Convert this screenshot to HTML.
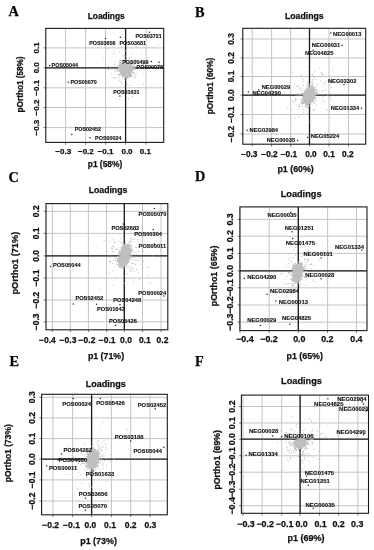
<!DOCTYPE html>
<html><head><meta charset="utf-8"><style>
html,body{margin:0;padding:0;background:#fff;}
svg{display:block;}
text{font-family:"Liberation Sans",Arial,sans-serif;font-weight:bold;fill:#111;stroke:#111;stroke-width:0.25px;}
.k{font-size:8.0px;}
.a{font-size:8.0px;}
.h{font-size:8.3px;}
.p{stroke-width:0.12px;}
.L{font-family:"Liberation Serif","Times New Roman",serif;font-size:14.3px;fill:#000;}
.g{stroke:#c4c4c4;stroke-width:1;}
.t{stroke:#777;stroke-width:1;}
.z{stroke:#1a1a1a;stroke-width:1.3;}
.f{fill:none;stroke:#1a1a1a;stroke-width:1.1;}
.c{stroke:#bdbdbd;stroke-width:1.2;stroke-linecap:round;fill:none;}
.d{fill:#222;}
.cc{fill:#c0c0c0;filter:url(#bl);}
</style></head><body>
<svg width="374" height="550" viewBox="0 0 374 550">
<defs><filter id="bl" x="-50%" y="-50%" width="200%" height="200%"><feGaussianBlur stdDeviation="0.7"/></filter></defs>
<line x1="65.6" y1="28.4" x2="65.6" y2="142.4" class="g"/>
<line x1="65.6" y1="142.4" x2="65.6" y2="144.70000000000002" class="t"/>
<line x1="85.6" y1="28.4" x2="85.6" y2="142.4" class="g"/>
<line x1="85.6" y1="142.4" x2="85.6" y2="144.70000000000002" class="t"/>
<line x1="105.6" y1="28.4" x2="105.6" y2="142.4" class="g"/>
<line x1="105.6" y1="142.4" x2="105.6" y2="144.70000000000002" class="t"/>
<line x1="125.6" y1="28.4" x2="125.6" y2="142.4" class="g"/>
<line x1="125.6" y1="142.4" x2="125.6" y2="144.70000000000002" class="t"/>
<line x1="146.0" y1="28.4" x2="146.0" y2="142.4" class="g"/>
<line x1="146.0" y1="142.4" x2="146.0" y2="144.70000000000002" class="t"/>
<line x1="45.8" y1="47.9" x2="163.7" y2="47.9" class="g"/>
<line x1="43.5" y1="47.9" x2="45.8" y2="47.9" class="t"/>
<line x1="45.8" y1="67.8" x2="163.7" y2="67.8" class="g"/>
<line x1="43.5" y1="67.8" x2="45.8" y2="67.8" class="t"/>
<line x1="45.8" y1="87.8" x2="163.7" y2="87.8" class="g"/>
<line x1="43.5" y1="87.8" x2="45.8" y2="87.8" class="t"/>
<line x1="45.8" y1="107.5" x2="163.7" y2="107.5" class="g"/>
<line x1="43.5" y1="107.5" x2="45.8" y2="107.5" class="t"/>
<line x1="45.8" y1="127.6" x2="163.7" y2="127.6" class="g"/>
<line x1="43.5" y1="127.6" x2="45.8" y2="127.6" class="t"/>
<line x1="125.6" y1="28.4" x2="125.6" y2="142.4" class="z"/>
<line x1="45.8" y1="67.8" x2="163.7" y2="67.8" class="z"/>
<ellipse cx="126.2" cy="67.3" rx="6.8" ry="5.0" transform="rotate(0 126.2 67.3)" class="cc"/>
<ellipse cx="125.6" cy="71.5" rx="5.6" ry="5.8" transform="rotate(0 125.6 71.5)" class="cc"/>
<path d="M122.7 72.5h.01M133.6 70.0h.01M119.8 66.2h.01M119.1 67.1h.01M132.4 68.4h.01M132.1 70.1h.01M119.9 69.7h.01M127.2 71.8h.01M120.4 62.9h.01M121.2 70.1h.01M135.2 66.3h.01M124.4 72.6h.01M130.9 71.7h.01M129.2 62.2h.01M128.4 70.8h.01M122.1 70.4h.01M119.3 65.7h.01M128.1 72.2h.01M123.7 63.4h.01M120.0 64.6h.01M120.3 68.6h.01M123.4 61.1h.01M126.4 71.3h.01M130.5 64.1h.01M125.4 62.9h.01M133.7 72.3h.01M120.3 69.8h.01M120.1 67.6h.01M131.8 68.3h.01M121.7 65.7h.01M130.5 64.2h.01M119.1 63.8h.01M122.2 65.7h.01M133.2 65.4h.01M119.7 68.1h.01M124.3 62.8h.01M120.7 62.0h.01M124.8 72.1h.01M121.2 70.5h.01M119.8 68.5h.01M129.7 71.9h.01M127.0 62.1h.01M130.9 70.9h.01M131.7 63.0h.01M130.9 69.2h.01M131.6 63.7h.01M129.3 62.3h.01M121.0 69.6h.01M120.5 72.5h.01M129.0 70.1h.01M129.3 71.8h.01M118.5 67.8h.01M120.4 64.6h.01M120.2 69.8h.01M123.5 69.5h.01M124.2 63.5h.01M120.8 66.9h.01M131.4 68.7h.01M132.1 64.1h.01M127.5 64.2h.01M121.3 70.2h.01M121.5 63.4h.01M133.2 69.4h.01M129.9 71.8h.01M122.5 71.5h.01M130.2 71.4h.01M131.5 70.2h.01M131.1 63.6h.01M120.7 63.7h.01M121.9 71.8h.01M120.6 72.0h.01M134.7 67.0h.01M120.1 68.3h.01M131.7 70.3h.01M122.6 71.3h.01M131.0 73.0h.01M134.3 68.2h.01M130.0 71.0h.01M118.2 65.7h.01M133.2 66.6h.01M130.4 63.7h.01M122.3 70.5h.01M129.7 71.8h.01M127.2 63.5h.01M122.8 71.9h.01M135.2 66.7h.01M130.8 62.8h.01M125.9 63.9h.01M127.0 71.4h.01M132.8 68.2h.01M131.0 72.5h.01M123.4 65.3h.01M128.8 70.6h.01M132.0 71.0h.01M130.5 70.0h.01M126.5 77.8h.01M127.6 77.4h.01M131.2 67.3h.01M127.8 67.9h.01M127.4 65.8h.01M129.4 73.8h.01M126.4 67.7h.01M125.6 66.3h.01M127.0 65.8h.01M122.4 77.3h.01M123.2 73.4h.01M119.8 75.8h.01M128.0 76.1h.01M130.4 76.6h.01M128.2 64.3h.01M129.8 77.2h.01M123.9 68.8h.01M122.6 75.8h.01M131.0 72.0h.01M130.4 70.6h.01M129.8 69.6h.01M119.3 74.4h.01M126.6 75.8h.01M125.5 77.1h.01M120.2 68.1h.01M125.3 76.8h.01M130.5 68.2h.01M123.0 75.0h.01M130.5 68.0h.01M119.8 74.8h.01M120.7 70.5h.01M119.0 70.5h.01M127.9 76.9h.01M131.4 71.6h.01M120.7 72.4h.01M124.9 66.6h.01M120.3 70.9h.01M120.2 69.5h.01M120.8 69.5h.01M125.7 77.0h.01M118.3 71.1h.01M120.3 69.3h.01M122.4 72.7h.01M122.3 68.5h.01M123.6 66.1h.01M121.3 72.9h.01M130.6 69.5h.01M123.3 64.3h.01M125.4 75.5h.01M118.7 68.7h.01M128.8 75.4h.01M129.4 75.3h.01M125.9 77.4h.01M129.9 73.7h.01M128.8 69.0h.01M128.6 76.0h.01M128.2 74.9h.01M130.3 67.1h.01M130.8 69.8h.01M123.5 73.1h.01M128.5 66.2h.01M128.0 75.5h.01M122.4 76.9h.01M127.2 76.3h.01M132.6 72.4h.01M120.5 69.6h.01M122.8 76.6h.01M121.9 67.7h.01M131.1 71.0h.01M127.0 65.4h.01M125.1 77.2h.01M131.2 73.0h.01M128.9 75.1h.01M119.3 75.0h.01M125.4 76.3h.01M129.6 77.1h.01M124.1 66.6h.01M131.6 75.4h.01M120.1 74.4h.01M131.8 74.7h.01M127.2 66.5h.01M130.6 74.5h.01M129.1 67.3h.01M120.9 73.0h.01M131.6 68.4h.01M125.4 73.0h.01M121.4 68.7h.01M128.6 72.0h.01M129.6 70.9h.01M123.9 74.8h.01M126.1 63.9h.01M122.0 69.5h.01M125.1 70.6h.01M125.8 70.7h.01M125.0 61.0h.01M128.3 76.6h.01M128.4 68.2h.01M128.5 63.0h.01M114.4 69.9h.01M120.2 74.5h.01M119.3 51.8h.01M119.6 80.2h.01M123.5 60.3h.01M121.2 73.0h.01M128.8 70.7h.01M134.7 74.3h.01M125.7 73.5h.01M135.7 76.1h.01M131.9 62.2h.01M124.9 74.4h.01M124.0 76.7h.01M129.4 75.6h.01M124.5 86.7h.01M133.2 68.0h.01M126.3 87.0h.01M123.7 75.4h.01M131.7 69.5h.01M118.8 70.8h.01M128.0 77.1h.01M130.5 69.7h.01M130.9 73.1h.01M127.0 69.9h.01M124.3 74.1h.01M119.5 65.3h.01M125.8 59.6h.01M123.2 55.9h.01M121.7 73.3h.01M129.2 69.1h.01M124.4 59.9h.01M136.8 73.0h.01M132.4 63.5h.01M124.7 57.2h.01M130.5 75.8h.01M114.4 69.1h.01M129.6 57.6h.01M114.8 62.3h.01M122.0 60.0h.01M126.0 71.2h.01M129.6 74.2h.01M134.8 77.4h.01M117.9 66.1h.01M119.4 62.2h.01M125.3 69.5h.01M128.7 58.8h.01M118.4 69.3h.01M124.6 67.4h.01M125.4 64.4h.01M130.0 71.9h.01M125.3 65.0h.01M124.8 51.1h.01M119.9 69.8h.01M116.8 70.8h.01M126.7 60.2h.01M124.3 67.4h.01M128.6 73.6h.01M125.6 63.8h.01M124.9 69.1h.01M130.2 71.5h.01M121.5 60.4h.01M123.6 64.5h.01M119.1 68.7h.01M122.9 70.2h.01M128.9 66.7h.01M139.7 67.3h.01M132.4 70.3h.01M132.5 53.5h.01M121.3 71.2h.01M129.4 85.3h.01M127.7 78.1h.01M130.4 75.9h.01M128.9 68.4h.01M128.9 62.2h.01M132.9 62.6h.01M127.3 83.8h.01M124.5 69.6h.01M132.8 69.7h.01M121.0 71.2h.01M129.3 74.3h.01M121.2 81.3h.01M135.8 69.6h.01M127.4 66.6h.01M134.3 64.7h.01M129.8 66.3h.01M121.6 74.4h.01M133.8 69.4h.01M121.7 75.0h.01M125.5 71.6h.01M143.5 84.3h.01M119.8 99.3h.01M125.8 79.8h.01M118.3 68.9h.01M105.5 92.8h.01M141.6 53.6h.01M108.3 48.3h.01M139.4 63.5h.01M125.1 65.4h.01M124.4 55.3h.01M126.1 50.7h.01M125.0 73.5h.01M131.2 66.5h.01M115.3 71.6h.01M120.2 89.9h.01M134.7 68.0h.01M120.3 60.3h.01M114.9 64.9h.01M129.2 76.2h.01M132.4 96.9h.01M117.6 69.7h.01M158.2 45.1h.01M119.8 71.7h.01M127.6 74.8h.01M123.0 74.3h.01M126.4 79.6h.01M103.8 58.0h.01M125.8 56.0h.01M113.7 77.7h.01M118.3 77.8h.01M134.5 73.5h.01M131.7 68.1h.01M109.5 69.1h.01M131.1 62.6h.01M124.6 79.3h.01M115.6 77.9h.01M147.4 62.3h.01M127.5 67.5h.01M143.7 73.6h.01M136.2 60.5h.01M125.6 69.4h.01M105.2 88.3h.01M136.2 46.7h.01M134.4 67.8h.01M131.0 74.3h.01M108.4 66.7h.01M143.1 62.0h.01M113.9 51.8h.01M111.6 73.9h.01M145.4 75.1h.01M128.6 98.6h.01M119.8 60.7h.01M131.9 76.7h.01M114.0 54.2h.01M129.2 72.7h.01M110.6 66.9h.01M119.5 75.5h.01M124.4 68.4h.01M121.7 83.2h.01M141.9 64.7h.01M135.6 59.6h.01M126.6 79.3h.01M143.4 64.5h.01M124.9 72.1h.01M108.4 69.7h.01M118.0 74.3h.01M112.7 43.7h.01M126.2 72.9h.01" class="c"/>
<rect x="45.8" y="28.4" width="117.9" height="114.0" class="f"/>
<circle cx="149.4" cy="32.2" r="0.75" class="d"/>
<text x="135.4" y="38.43" class="p" font-size="5.4">POS03721</text>
<circle cx="105.5" cy="38.6" r="0.75" class="d"/>
<text x="89.2" y="45.13" class="p" font-size="5.4">POS03656</text>
<circle cx="120.4" cy="37.3" r="0.75" class="d"/>
<text x="119.5" y="44.93" class="p" font-size="5.4">POS03681</text>
<circle cx="49.7" cy="65.6" r="0.75" class="d"/>
<text x="51.6" y="67.23" class="p" font-size="5.4">POS05044</text>
<circle cx="151.4" cy="61.6" r="0.75" class="d"/>
<text x="122.2" y="63.53" class="p" font-size="5.4">POS00499</text>
<circle cx="159.0" cy="62.2" r="0.75" class="d"/>
<circle cx="162.0" cy="67.5" r="0.75" class="d"/>
<text x="136.6" y="69.43" class="p" font-size="5.4">POS00078</text>
<circle cx="68.1" cy="82.3" r="0.75" class="d"/>
<text x="70.4" y="83.73" class="p" font-size="5.4">POS05070</text>
<circle cx="119.9" cy="96.0" r="0.75" class="d"/>
<text x="113.2" y="93.73" class="p" font-size="5.4">POS01631</text>
<circle cx="71.8" cy="134.5" r="0.75" class="d"/>
<text x="74.7" y="130.73" class="p" font-size="5.4">POS02452</text>
<circle cx="90.0" cy="137.8" r="0.75" class="d"/>
<text x="95.1" y="139.73" class="p" font-size="5.4">POS00024</text>
<text x="63.3" y="154.16" font-size="8.0" text-anchor="middle">−0.3</text>
<text x="85.9" y="154.16" font-size="8.0" text-anchor="middle">−0.2</text>
<text x="105.6" y="154.16" font-size="8.0" text-anchor="middle">−0.1</text>
<text x="127.0" y="154.16" font-size="8.0" text-anchor="middle">0.0</text>
<text x="145.4" y="154.16" font-size="8.0" text-anchor="middle">0.1</text>
<text transform="translate(38.86,47.9) rotate(-90)" font-size="8.0" text-anchor="middle">0.1</text>
<text transform="translate(38.86,67.8) rotate(-90)" font-size="8.0" text-anchor="middle">0.0</text>
<text transform="translate(38.86,87.8) rotate(-90)" font-size="8.0" text-anchor="middle">−0.1</text>
<text transform="translate(38.86,107.5) rotate(-90)" font-size="8.0" text-anchor="middle">−0.2</text>
<text transform="translate(38.86,127.6) rotate(-90)" font-size="8.0" text-anchor="middle">−0.3</text>
<text x="105.0" y="166.51" font-size="8.4" text-anchor="middle">p1 (58%)</text>
<text transform="translate(23.34,84.4) rotate(-90)" font-size="8.2" text-anchor="middle">pOrtho1 (58%)</text>
<text x="106.2" y="19.0" font-size="8.3" text-anchor="middle">Loadings</text>
<text x="8.6" y="16.0" class="L">A</text>
<line x1="252.2" y1="28.3" x2="252.2" y2="144.2" class="g"/>
<line x1="252.2" y1="144.2" x2="252.2" y2="146.5" class="t"/>
<line x1="271.6" y1="28.3" x2="271.6" y2="144.2" class="g"/>
<line x1="271.6" y1="144.2" x2="271.6" y2="146.5" class="t"/>
<line x1="290.7" y1="28.3" x2="290.7" y2="144.2" class="g"/>
<line x1="290.7" y1="144.2" x2="290.7" y2="146.5" class="t"/>
<line x1="309.5" y1="28.3" x2="309.5" y2="144.2" class="g"/>
<line x1="309.5" y1="144.2" x2="309.5" y2="146.5" class="t"/>
<line x1="329.0" y1="28.3" x2="329.0" y2="144.2" class="g"/>
<line x1="329.0" y1="144.2" x2="329.0" y2="146.5" class="t"/>
<line x1="348.5" y1="28.3" x2="348.5" y2="144.2" class="g"/>
<line x1="348.5" y1="144.2" x2="348.5" y2="146.5" class="t"/>
<line x1="242.8" y1="39.0" x2="365.7" y2="39.0" class="g"/>
<line x1="240.5" y1="39.0" x2="242.8" y2="39.0" class="t"/>
<line x1="242.8" y1="57.9" x2="365.7" y2="57.9" class="g"/>
<line x1="240.5" y1="57.9" x2="242.8" y2="57.9" class="t"/>
<line x1="242.8" y1="76.5" x2="365.7" y2="76.5" class="g"/>
<line x1="240.5" y1="76.5" x2="242.8" y2="76.5" class="t"/>
<line x1="242.8" y1="95.2" x2="365.7" y2="95.2" class="g"/>
<line x1="240.5" y1="95.2" x2="242.8" y2="95.2" class="t"/>
<line x1="242.8" y1="114.5" x2="365.7" y2="114.5" class="g"/>
<line x1="240.5" y1="114.5" x2="242.8" y2="114.5" class="t"/>
<line x1="242.8" y1="134.0" x2="365.7" y2="134.0" class="g"/>
<line x1="240.5" y1="134.0" x2="242.8" y2="134.0" class="t"/>
<line x1="309.5" y1="28.3" x2="309.5" y2="144.2" class="z"/>
<line x1="242.8" y1="95.2" x2="365.7" y2="95.2" class="z"/>
<ellipse cx="309.0" cy="95.5" rx="6.0" ry="9.6" transform="rotate(18 309.0 95.5)" class="cc"/>
<path d="M304.8 100.7h.01M307.9 105.9h.01M313.4 87.4h.01M308.0 102.8h.01M314.4 95.6h.01M306.0 107.7h.01M307.1 104.9h.01M314.4 94.7h.01M302.9 93.8h.01M301.8 98.8h.01M308.6 85.8h.01M302.9 99.6h.01M307.3 105.7h.01M313.4 100.1h.01M311.9 99.1h.01M316.7 89.7h.01M312.3 82.4h.01M303.7 102.6h.01M308.4 107.1h.01M313.4 98.7h.01M308.7 87.8h.01M303.0 103.4h.01M309.2 105.7h.01M303.2 101.7h.01M317.4 94.5h.01M307.2 107.8h.01M302.3 102.4h.01M304.5 96.9h.01M312.8 99.3h.01M315.6 92.6h.01M308.4 102.4h.01M315.5 100.1h.01M301.8 99.2h.01M312.4 98.4h.01M315.8 100.7h.01M305.3 105.9h.01M312.2 85.1h.01M305.6 103.4h.01M314.6 95.0h.01M310.6 87.1h.01M304.0 103.1h.01M312.2 86.3h.01M313.6 93.4h.01M312.5 97.7h.01M307.7 100.6h.01M315.8 94.6h.01M302.8 100.1h.01M302.1 93.7h.01M316.3 92.9h.01M312.3 83.5h.01M314.4 87.9h.01M305.0 100.9h.01M304.9 101.5h.01M313.5 102.9h.01M308.0 104.8h.01M312.5 100.1h.01M313.2 98.7h.01M314.7 96.2h.01M316.1 90.1h.01M312.4 101.6h.01M311.2 100.3h.01M302.6 96.7h.01M307.1 102.8h.01M309.0 85.4h.01M312.3 85.0h.01M310.6 101.5h.01M314.2 89.2h.01M301.5 101.9h.01M311.6 85.9h.01M305.8 105.9h.01M310.0 105.6h.01M304.6 101.6h.01M301.3 100.4h.01M306.7 104.7h.01M312.3 90.1h.01M310.5 99.3h.01M302.0 95.1h.01M313.4 93.4h.01M313.7 99.5h.01M308.3 105.5h.01M312.9 95.7h.01M304.2 99.7h.01M314.2 90.7h.01M313.1 86.4h.01M316.6 93.9h.01M306.6 86.8h.01M307.4 104.2h.01M307.7 105.5h.01M306.5 102.6h.01M308.0 103.4h.01M314.3 93.8h.01M307.3 92.5h.01M307.5 100.0h.01M311.1 87.0h.01M311.6 95.6h.01M303.0 102.7h.01M307.3 94.0h.01M313.8 102.0h.01M304.9 99.9h.01M303.7 112.2h.01M306.0 104.2h.01M305.1 102.2h.01M322.3 74.2h.01M306.4 99.7h.01M308.4 91.5h.01M321.9 90.9h.01M299.1 104.8h.01M298.7 106.8h.01M305.5 97.8h.01M316.6 93.3h.01M300.7 88.1h.01M316.1 97.4h.01M304.1 102.9h.01M312.0 98.4h.01M295.4 98.9h.01M314.4 98.0h.01M314.3 77.9h.01M310.0 98.2h.01M324.3 83.4h.01M307.0 96.5h.01M314.3 90.6h.01M315.9 87.8h.01M310.6 91.5h.01M309.9 90.8h.01M299.4 106.2h.01M310.8 91.3h.01M310.2 101.3h.01M303.1 97.1h.01M312.2 97.6h.01M307.0 83.0h.01M316.5 94.6h.01M309.1 93.7h.01M310.6 92.2h.01M302.9 93.2h.01M305.4 93.0h.01M302.0 102.3h.01M301.1 102.8h.01M302.9 100.1h.01M317.2 93.5h.01M304.6 97.5h.01M309.9 84.2h.01M305.4 98.0h.01M306.2 97.1h.01M313.4 98.6h.01M314.4 97.1h.01M307.3 96.1h.01M307.4 94.2h.01M307.9 85.0h.01M307.0 96.1h.01M303.2 97.6h.01M312.1 93.2h.01M321.5 74.1h.01M307.8 84.4h.01M314.9 110.0h.01M294.0 102.2h.01M312.1 92.4h.01M312.3 80.0h.01M314.1 95.8h.01M309.1 91.7h.01M312.8 90.9h.01M310.3 91.7h.01M295.5 100.6h.01M310.2 99.8h.01M303.7 97.4h.01M312.7 95.0h.01M316.5 105.2h.01M303.5 85.5h.01M314.1 103.1h.01M314.5 98.5h.01M305.3 92.4h.01M314.3 87.6h.01M298.1 93.5h.01M324.0 101.8h.01M304.9 92.5h.01M310.4 90.2h.01M316.9 91.9h.01M302.5 106.3h.01M305.5 98.3h.01M308.9 93.5h.01M310.9 90.4h.01M297.9 85.9h.01M301.4 93.7h.01M308.9 95.9h.01M312.3 94.9h.01M304.2 92.9h.01M296.3 99.4h.01M311.9 97.7h.01M308.3 94.7h.01M314.6 93.4h.01M313.4 97.4h.01M310.3 103.3h.01M305.6 94.6h.01M299.6 89.4h.01M327.0 109.9h.01M309.3 102.3h.01M322.6 100.0h.01M323.0 74.6h.01M301.6 104.0h.01M325.6 90.2h.01M299.0 95.1h.01M301.3 88.0h.01M326.4 81.0h.01M309.2 121.8h.01M322.7 94.2h.01M301.9 103.3h.01M327.8 95.7h.01M323.6 90.9h.01M315.0 90.7h.01M314.0 109.4h.01M292.4 101.3h.01M311.8 87.4h.01M305.4 106.5h.01M332.2 94.1h.01M312.8 75.0h.01M331.4 87.6h.01M308.6 82.0h.01M308.3 82.4h.01M309.8 100.9h.01M309.4 98.8h.01M299.1 116.9h.01M301.4 76.3h.01M306.8 87.0h.01M297.3 95.8h.01M312.4 79.7h.01M307.4 113.6h.01M316.9 90.5h.01M310.5 93.5h.01M308.4 104.7h.01M307.9 66.5h.01M308.8 84.7h.01M316.6 85.1h.01M310.7 121.4h.01M296.9 86.5h.01M292.6 72.7h.01M287.2 108.5h.01M301.6 75.6h.01M291.8 109.8h.01M300.0 94.6h.01M312.8 110.6h.01M331.5 99.3h.01M310.7 97.1h.01M329.9 104.7h.01M305.4 102.5h.01M312.3 94.8h.01M303.2 81.6h.01M302.8 79.1h.01M323.2 96.5h.01M295.0 118.1h.01M319.3 68.1h.01M330.4 97.0h.01M332.9 71.0h.01M315.2 98.2h.01M311.3 96.7h.01M321.2 72.4h.01M294.6 84.1h.01M302.5 90.6h.01M313.3 97.1h.01M309.4 87.1h.01M303.9 109.2h.01M317.9 93.2h.01M318.0 84.0h.01M321.0 81.0h.01M323.0 86.0h.01M316.0 79.5h.01M319.5 90.0h.01M325.0 83.0h.01M300.0 106.0h.01M298.0 109.0h.01M302.0 110.0h.01M296.0 104.0h.01M312.0 74.0h.01M315.0 71.5h.01" class="c"/>
<rect x="242.8" y="28.3" width="122.9" height="115.9" class="f"/>
<circle cx="330.9" cy="32.9" r="0.75" class="d"/>
<text x="333.0" y="36.46" class="p" font-size="5.75">NEG00013</text>
<circle cx="342.1" cy="45.6" r="0.75" class="d"/>
<text x="311.8" y="46.76" class="p" font-size="5.75">NEG00031</text>
<circle cx="313.1" cy="50.3" r="0.75" class="d"/>
<text x="304.9" y="55.46" class="p" font-size="5.75">NEG04825</text>
<circle cx="344.0" cy="84.5" r="0.75" class="d"/>
<text x="327.9" y="82.86" class="p" font-size="5.75">NEG03302</text>
<circle cx="258.7" cy="89.7" r="0.75" class="d"/>
<text x="261.7" y="88.56" class="p" font-size="5.75">NEG00029</text>
<circle cx="248.4" cy="91.9" r="0.75" class="d"/>
<text x="252.4" y="95.46" class="p" font-size="5.75">NEG04290</text>
<circle cx="247.1" cy="130.3" r="0.75" class="d"/>
<text x="249.6" y="131.56" class="p" font-size="5.75">NEG02984</text>
<circle cx="297.6" cy="140.6" r="0.75" class="d"/>
<text x="266.7" y="141.76" class="p" font-size="5.75">NEG00035</text>
<circle cx="307.6" cy="137.6" r="0.75" class="d"/>
<text x="310.8" y="137.66" class="p" font-size="5.75">NEG05224</text>
<circle cx="361.5" cy="108.2" r="0.75" class="d"/>
<text x="330.8" y="109.66" class="p" font-size="5.75">NEG01334</text>
<text x="249.3" y="156.67" font-size="8.3" text-anchor="middle">−0.3</text>
<text x="269.5" y="156.67" font-size="8.3" text-anchor="middle">−0.2</text>
<text x="288.9" y="156.67" font-size="8.3" text-anchor="middle">−0.1</text>
<text x="310.9" y="156.67" font-size="8.3" text-anchor="middle">0.0</text>
<text x="329.0" y="156.67" font-size="8.3" text-anchor="middle">0.1</text>
<text x="347.8" y="156.67" font-size="8.3" text-anchor="middle">0.2</text>
<text transform="translate(234.37,39.0) rotate(-90)" font-size="8.3" text-anchor="middle">0.3</text>
<text transform="translate(234.37,57.9) rotate(-90)" font-size="8.3" text-anchor="middle">0.2</text>
<text transform="translate(234.37,76.5) rotate(-90)" font-size="8.3" text-anchor="middle">0.1</text>
<text transform="translate(234.37,95.2) rotate(-90)" font-size="8.3" text-anchor="middle">0.0</text>
<text transform="translate(234.37,114.5) rotate(-90)" font-size="8.3" text-anchor="middle">−0.1</text>
<text transform="translate(234.37,134.0) rotate(-90)" font-size="8.3" text-anchor="middle">−0.2</text>
<text x="295.6" y="172.05" font-size="8.8" text-anchor="middle">p1 (60%)</text>
<text transform="translate(212.87,86.0) rotate(-90)" font-size="8.3" text-anchor="middle">pOrtho1 (60%)</text>
<text x="304.3" y="19.0" font-size="8.7" text-anchor="middle">Loadings</text>
<text x="195.0" y="17.0" class="L">B</text>
<line x1="52.3" y1="203.6" x2="52.3" y2="329.8" class="g"/>
<line x1="52.3" y1="329.8" x2="52.3" y2="332.1" class="t"/>
<line x1="70.3" y1="203.6" x2="70.3" y2="329.8" class="g"/>
<line x1="70.3" y1="329.8" x2="70.3" y2="332.1" class="t"/>
<line x1="88.4" y1="203.6" x2="88.4" y2="329.8" class="g"/>
<line x1="88.4" y1="329.8" x2="88.4" y2="332.1" class="t"/>
<line x1="106.6" y1="203.6" x2="106.6" y2="329.8" class="g"/>
<line x1="106.6" y1="329.8" x2="106.6" y2="332.1" class="t"/>
<line x1="124.3" y1="203.6" x2="124.3" y2="329.8" class="g"/>
<line x1="124.3" y1="329.8" x2="124.3" y2="332.1" class="t"/>
<line x1="142.5" y1="203.6" x2="142.5" y2="329.8" class="g"/>
<line x1="142.5" y1="329.8" x2="142.5" y2="332.1" class="t"/>
<line x1="161.0" y1="203.6" x2="161.0" y2="329.8" class="g"/>
<line x1="161.0" y1="329.8" x2="161.0" y2="332.1" class="t"/>
<line x1="46.0" y1="211.3" x2="167.8" y2="211.3" class="g"/>
<line x1="43.7" y1="211.3" x2="46.0" y2="211.3" class="t"/>
<line x1="46.0" y1="233.4" x2="167.8" y2="233.4" class="g"/>
<line x1="43.7" y1="233.4" x2="46.0" y2="233.4" class="t"/>
<line x1="46.0" y1="255.9" x2="167.8" y2="255.9" class="g"/>
<line x1="43.7" y1="255.9" x2="46.0" y2="255.9" class="t"/>
<line x1="46.0" y1="278.0" x2="167.8" y2="278.0" class="g"/>
<line x1="43.7" y1="278.0" x2="46.0" y2="278.0" class="t"/>
<line x1="46.0" y1="300.1" x2="167.8" y2="300.1" class="g"/>
<line x1="43.7" y1="300.1" x2="46.0" y2="300.1" class="t"/>
<line x1="46.0" y1="321.8" x2="167.8" y2="321.8" class="g"/>
<line x1="43.7" y1="321.8" x2="46.0" y2="321.8" class="t"/>
<line x1="124.3" y1="203.6" x2="124.3" y2="329.8" class="z"/>
<line x1="46.0" y1="255.9" x2="167.8" y2="255.9" class="z"/>
<ellipse cx="126.3" cy="250.5" rx="5.0" ry="5.6" transform="rotate(0 126.3 250.5)" class="cc"/>
<ellipse cx="123.6" cy="260.0" rx="5.2" ry="7.0" transform="rotate(8 123.6 260.0)" class="cc"/>
<path d="M125.3 255.8h.01M124.5 254.7h.01M129.5 249.7h.01M122.6 246.7h.01M130.4 251.4h.01M127.1 244.4h.01M123.6 254.8h.01M127.1 254.8h.01M130.4 245.0h.01M129.1 256.3h.01M131.8 250.5h.01M132.7 249.5h.01M130.3 250.6h.01M127.8 245.1h.01M128.0 254.8h.01M128.8 245.6h.01M125.9 256.9h.01M127.3 255.7h.01M124.9 245.6h.01M123.0 246.3h.01M131.0 253.4h.01M127.1 246.5h.01M123.2 246.9h.01M121.8 254.4h.01M131.4 245.8h.01M132.2 251.6h.01M127.6 255.7h.01M119.4 250.4h.01M122.3 254.7h.01M121.9 251.7h.01M121.4 249.4h.01M124.2 247.4h.01M123.5 254.8h.01M129.3 245.4h.01M123.7 245.8h.01M122.2 252.4h.01M127.0 245.4h.01M121.7 251.8h.01M130.1 246.8h.01M124.5 256.4h.01M124.8 244.8h.01M128.8 254.7h.01M126.4 255.5h.01M129.5 256.2h.01M123.5 256.3h.01M125.3 242.4h.01M130.6 254.1h.01M122.6 254.2h.01M131.7 249.9h.01M123.0 252.1h.01M127.9 255.5h.01M127.6 255.5h.01M121.8 254.8h.01M127.6 244.9h.01M125.0 246.6h.01M121.4 251.8h.01M129.0 254.2h.01M126.0 245.5h.01M129.6 248.1h.01M126.3 244.3h.01M121.7 253.3h.01M131.0 245.6h.01M127.0 245.6h.01M124.9 247.1h.01M123.6 246.8h.01M122.7 246.3h.01M129.3 252.8h.01M125.0 244.2h.01M122.9 246.4h.01M120.6 252.3h.01M123.5 247.5h.01M131.5 247.8h.01M128.0 254.7h.01M123.5 253.2h.01M121.1 250.9h.01M121.5 249.0h.01M129.2 255.6h.01M123.4 250.1h.01M129.5 253.2h.01M125.4 245.6h.01M122.4 250.2h.01M122.6 249.9h.01M121.6 253.8h.01M124.4 245.6h.01M122.4 254.0h.01M130.8 250.0h.01M122.8 255.5h.01M122.1 254.0h.01M130.5 250.9h.01M124.6 244.7h.01M119.8 265.1h.01M124.4 252.2h.01M128.1 258.4h.01M126.1 253.8h.01M118.9 263.9h.01M125.6 252.7h.01M126.0 254.6h.01M119.9 257.2h.01M123.4 268.1h.01M121.1 254.4h.01M126.9 253.5h.01M121.7 265.3h.01M117.9 256.6h.01M118.7 266.3h.01M127.4 254.9h.01M122.3 268.1h.01M118.5 262.5h.01M123.7 253.0h.01M121.6 266.7h.01M117.6 260.2h.01M119.4 262.0h.01M120.3 263.8h.01M128.9 257.6h.01M126.7 254.5h.01M128.5 256.7h.01M126.6 254.9h.01M120.8 254.2h.01M128.8 258.6h.01M121.5 253.8h.01M126.3 266.4h.01M123.1 267.2h.01M125.4 265.1h.01M128.5 256.6h.01M127.7 256.6h.01M120.0 254.8h.01M127.0 257.3h.01M125.9 253.0h.01M122.8 253.9h.01M118.8 258.0h.01M127.2 256.7h.01M119.1 257.0h.01M126.5 266.5h.01M117.4 259.5h.01M126.2 266.3h.01M119.6 259.7h.01M127.7 255.2h.01M129.3 261.1h.01M120.0 257.2h.01M121.7 253.1h.01M119.4 262.3h.01M130.0 258.8h.01M120.6 253.6h.01M127.5 261.5h.01M127.8 258.2h.01M119.5 266.9h.01M118.5 259.9h.01M129.6 255.4h.01M120.5 254.3h.01M119.7 266.1h.01M119.0 260.3h.01M118.6 258.1h.01M119.1 261.8h.01M120.2 261.8h.01M121.5 265.8h.01M126.3 255.2h.01M121.7 267.6h.01M117.2 258.7h.01M125.8 253.8h.01M120.5 265.3h.01M119.2 255.2h.01M120.9 254.3h.01M123.7 253.4h.01M127.9 256.2h.01M121.1 266.3h.01M129.5 261.1h.01M118.9 253.2h.01M121.4 253.2h.01M121.6 256.9h.01M121.0 255.8h.01M120.7 256.4h.01M122.2 253.0h.01M117.0 261.4h.01M125.1 252.5h.01M128.7 262.5h.01M125.7 251.7h.01M120.0 264.0h.01M126.9 253.8h.01M122.6 265.3h.01M121.4 265.5h.01M118.1 262.4h.01M115.2 242.9h.01M132.3 259.8h.01M127.6 257.4h.01M127.6 247.4h.01M130.5 252.5h.01M130.8 257.2h.01M111.9 246.8h.01M131.7 255.5h.01M122.0 258.3h.01M121.8 252.4h.01M125.2 257.6h.01M134.2 256.8h.01M136.5 270.0h.01M135.4 264.5h.01M125.3 257.5h.01M123.6 251.0h.01M124.1 251.7h.01M135.0 260.5h.01M121.7 242.1h.01M124.2 253.4h.01M117.6 248.0h.01M110.2 260.8h.01M124.1 275.9h.01M124.3 255.4h.01M133.7 257.5h.01M125.6 253.7h.01M120.6 267.7h.01M130.9 269.4h.01M122.3 256.7h.01M118.9 263.8h.01M115.6 260.7h.01M131.5 267.1h.01M118.5 264.7h.01M120.0 250.8h.01M116.1 265.2h.01M135.0 252.0h.01M119.7 254.0h.01M140.5 264.0h.01M121.0 243.0h.01M120.2 265.4h.01M136.4 254.5h.01M120.1 252.7h.01M112.5 263.3h.01M117.6 264.5h.01M113.6 247.0h.01M126.3 250.8h.01M129.5 256.6h.01M117.0 261.2h.01M129.9 242.2h.01M136.1 260.2h.01M129.3 242.5h.01M119.9 253.9h.01M131.4 245.6h.01M118.9 241.3h.01M123.0 259.1h.01M113.8 252.1h.01M127.8 268.4h.01M128.7 254.2h.01M117.0 249.5h.01M120.3 257.6h.01M124.2 269.0h.01M126.3 248.5h.01M134.3 263.6h.01M125.1 251.1h.01M112.6 248.8h.01M130.3 250.5h.01M116.1 258.0h.01M126.1 261.0h.01M128.7 267.1h.01M119.1 263.8h.01M118.2 261.7h.01M125.6 258.3h.01M130.7 256.4h.01M131.6 263.1h.01M125.4 252.2h.01M119.7 252.5h.01M123.2 256.3h.01M143.5 261.3h.01M129.4 250.0h.01M120.0 254.1h.01M125.7 248.7h.01M134.8 252.3h.01M131.4 239.0h.01M124.5 258.6h.01M125.7 261.0h.01M126.3 257.7h.01M112.4 251.1h.01M109.6 261.2h.01M126.5 255.0h.01M119.3 252.1h.01M136.3 269.5h.01M124.1 266.2h.01M114.4 242.0h.01M121.4 249.9h.01M120.9 257.9h.01M143.8 251.5h.01M124.8 258.6h.01M124.3 263.5h.01M135.8 247.2h.01M125.5 254.5h.01M126.8 245.0h.01M113.3 239.1h.01M127.8 257.9h.01M125.0 238.8h.01M122.1 250.8h.01M115.5 249.6h.01M128.9 260.6h.01M124.4 260.4h.01M120.7 257.0h.01M124.8 260.7h.01M124.1 255.4h.01M123.6 251.7h.01M138.7 260.4h.01M127.2 273.7h.01M141.8 233.9h.01M133.1 268.7h.01M147.7 275.6h.01M134.0 239.4h.01M113.8 260.4h.01M130.7 241.7h.01M119.8 250.7h.01M125.2 261.4h.01M121.0 238.6h.01M139.8 279.6h.01M123.2 271.4h.01M130.0 266.1h.01M130.4 245.4h.01M131.6 271.2h.01M113.5 285.0h.01M150.3 282.9h.01M149.0 267.3h.01M120.3 247.8h.01M114.5 258.2h.01M124.1 266.2h.01M99.6 290.0h.01M152.6 256.1h.01M132.8 263.4h.01M127.9 253.5h.01M123.0 244.5h.01M126.7 256.2h.01M128.4 244.1h.01M125.0 257.2h.01M131.9 241.1h.01M129.7 270.8h.01M131.9 251.2h.01M118.4 253.1h.01M133.5 279.0h.01M122.6 247.2h.01M129.1 259.5h.01M113.3 245.8h.01M123.2 266.2h.01M109.8 241.7h.01M130.7 238.7h.01M125.8 261.6h.01M123.1 241.7h.01M123.8 251.7h.01M128.6 244.3h.01M138.0 232.2h.01M122.3 256.6h.01M136.4 247.7h.01M131.2 248.3h.01M133.6 281.7h.01M119.6 262.9h.01M113.1 270.6h.01M139.4 257.0h.01M110.5 262.3h.01M138.7 272.3h.01M134.5 230.0h.01M116.1 277.1h.01M109.4 272.9h.01M147.7 267.5h.01M138.3 251.7h.01M109.4 255.0h.01M122.0 255.8h.01M133.1 254.4h.01M126.9 262.6h.01M124.4 283.2h.01M130.0 257.7h.01M121.9 247.4h.01M141.1 258.7h.01M111.2 248.3h.01M122.8 250.0h.01M137.9 239.7h.01M130.6 258.6h.01M110.0 257.2h.01M123.3 263.8h.01M119.0 260.9h.01M104.0 240.8h.01M134.2 271.6h.01M124.3 247.8h.01" class="c"/>
<rect x="46.0" y="203.6" width="121.8" height="126.2" class="f"/>
<circle cx="154.3" cy="208.4" r="0.75" class="d"/>
<text x="138.6" y="215.54" class="p" font-size="5.7">POS05070</text>
<circle cx="123.4" cy="224.0" r="0.75" class="d"/>
<text x="111.4" y="230.44" class="p" font-size="5.7">POS02682</text>
<circle cx="153.3" cy="229.6" r="0.75" class="d"/>
<text x="134.2" y="235.74" class="p" font-size="5.7">POS00304</text>
<circle cx="154.3" cy="244.0" r="0.75" class="d"/>
<text x="138.6" y="247.94" class="p" font-size="5.7">POS00011</text>
<circle cx="50.7" cy="266.5" r="0.75" class="d"/>
<text x="52.9" y="267.04" class="p" font-size="5.7">POS05044</text>
<circle cx="73.3" cy="303.9" r="0.75" class="d"/>
<text x="75.4" y="300.34" class="p" font-size="5.7">POS02452</text>
<circle cx="96.5" cy="304.3" r="0.75" class="d"/>
<text x="97.0" y="311.34" class="p" font-size="5.7">POS01643</text>
<circle cx="163.8" cy="296.0" r="0.75" class="d"/>
<text x="138.3" y="295.24" class="p" font-size="5.7">POS00024</text>
<circle cx="120.0" cy="304.5" r="0.75" class="d"/>
<text x="113.3" y="301.64" class="p" font-size="5.7">POS04248</text>
<circle cx="115.7" cy="325.2" r="0.75" class="d"/>
<text x="109.0" y="322.54" class="p" font-size="5.7">POS05426</text>
<text x="47.4" y="343.24" font-size="8.5" text-anchor="middle">−0.4</text>
<text x="68.0" y="343.24" font-size="8.5" text-anchor="middle">−0.3</text>
<text x="87.0" y="343.24" font-size="8.5" text-anchor="middle">−0.2</text>
<text x="107.1" y="343.24" font-size="8.5" text-anchor="middle">−0.1</text>
<text x="126.0" y="343.24" font-size="8.5" text-anchor="middle">0.0</text>
<text x="144.8" y="343.24" font-size="8.5" text-anchor="middle">0.1</text>
<text x="162.5" y="343.24" font-size="8.5" text-anchor="middle">0.2</text>
<text transform="translate(38.64,211.3) rotate(-90)" font-size="8.5" text-anchor="middle">0.2</text>
<text transform="translate(38.64,233.4) rotate(-90)" font-size="8.5" text-anchor="middle">0.1</text>
<text transform="translate(38.64,255.9) rotate(-90)" font-size="8.5" text-anchor="middle">0.0</text>
<text transform="translate(38.64,278.0) rotate(-90)" font-size="8.5" text-anchor="middle">−0.1</text>
<text transform="translate(38.64,300.1) rotate(-90)" font-size="8.5" text-anchor="middle">−0.2</text>
<text transform="translate(38.64,321.8) rotate(-90)" font-size="8.5" text-anchor="middle">−0.3</text>
<text x="106.0" y="358.75" font-size="8.8" text-anchor="middle">p1 (71%)</text>
<text transform="translate(17.99,263.2) rotate(-90)" font-size="9.2" text-anchor="middle">pOrtho1 (71%)</text>
<text x="108.0" y="193.4" font-size="8.7" text-anchor="middle">Loadings</text>
<text x="8.6" y="181.8" class="L">C</text>
<line x1="240.0" y1="206.9" x2="240.0" y2="330.6" class="g"/>
<line x1="240.0" y1="330.6" x2="240.0" y2="332.90000000000003" class="t"/>
<line x1="269.2" y1="206.9" x2="269.2" y2="330.6" class="g"/>
<line x1="269.2" y1="330.6" x2="269.2" y2="332.90000000000003" class="t"/>
<line x1="298.3" y1="206.9" x2="298.3" y2="330.6" class="g"/>
<line x1="298.3" y1="330.6" x2="298.3" y2="332.90000000000003" class="t"/>
<line x1="327.6" y1="206.9" x2="327.6" y2="330.6" class="g"/>
<line x1="327.6" y1="330.6" x2="327.6" y2="332.90000000000003" class="t"/>
<line x1="356.5" y1="206.9" x2="356.5" y2="330.6" class="g"/>
<line x1="356.5" y1="330.6" x2="356.5" y2="332.90000000000003" class="t"/>
<line x1="239.9" y1="219.4" x2="367.0" y2="219.4" class="g"/>
<line x1="237.6" y1="219.4" x2="239.9" y2="219.4" class="t"/>
<line x1="239.9" y1="236.2" x2="367.0" y2="236.2" class="g"/>
<line x1="237.6" y1="236.2" x2="239.9" y2="236.2" class="t"/>
<line x1="239.9" y1="253.4" x2="367.0" y2="253.4" class="g"/>
<line x1="237.6" y1="253.4" x2="239.9" y2="253.4" class="t"/>
<line x1="239.9" y1="270.9" x2="367.0" y2="270.9" class="g"/>
<line x1="237.6" y1="270.9" x2="239.9" y2="270.9" class="t"/>
<line x1="239.9" y1="287.8" x2="367.0" y2="287.8" class="g"/>
<line x1="237.6" y1="287.8" x2="239.9" y2="287.8" class="t"/>
<line x1="239.9" y1="305.0" x2="367.0" y2="305.0" class="g"/>
<line x1="237.6" y1="305.0" x2="239.9" y2="305.0" class="t"/>
<line x1="239.9" y1="322.2" x2="367.0" y2="322.2" class="g"/>
<line x1="237.6" y1="322.2" x2="239.9" y2="322.2" class="t"/>
<line x1="298.3" y1="206.9" x2="298.3" y2="330.6" class="z"/>
<line x1="239.9" y1="270.9" x2="367.0" y2="270.9" class="z"/>
<ellipse cx="298.2" cy="269.3" rx="5.0" ry="5.3" transform="rotate(0 298.2 269.3)" class="cc"/>
<ellipse cx="296.9" cy="276.3" rx="4.0" ry="5.6" transform="rotate(15 296.9 276.3)" class="cc"/>
<path d="M300.9 263.8h.01M294.1 271.7h.01M300.4 265.6h.01M302.7 267.4h.01M299.0 264.4h.01M295.4 274.4h.01M292.1 272.1h.01M302.3 266.6h.01M300.3 264.3h.01M293.5 268.8h.01M303.6 267.7h.01M294.0 271.7h.01M295.3 265.9h.01M303.5 271.9h.01M293.8 271.4h.01M301.4 273.4h.01M303.5 268.2h.01M296.2 267.0h.01M300.5 263.0h.01M301.9 270.2h.01M295.1 265.3h.01M297.3 276.0h.01M292.3 267.6h.01M298.2 274.0h.01M295.2 268.9h.01M296.8 275.4h.01M296.6 274.0h.01M294.4 266.6h.01M302.3 268.1h.01M293.4 270.4h.01M293.0 268.1h.01M301.8 273.5h.01M297.0 273.8h.01M298.4 275.0h.01M301.1 271.2h.01M294.7 266.3h.01M294.0 267.2h.01M297.1 264.7h.01M294.5 270.3h.01M293.7 270.3h.01M296.3 274.3h.01M292.6 268.8h.01M294.6 272.8h.01M295.2 273.5h.01M301.5 265.2h.01M292.1 269.7h.01M297.0 275.3h.01M298.9 264.1h.01M301.8 275.2h.01M292.9 271.5h.01M302.1 271.0h.01M297.7 263.4h.01M302.3 272.9h.01M297.7 261.6h.01M300.8 273.3h.01M295.6 263.9h.01M293.7 265.1h.01M294.6 268.9h.01M297.9 264.1h.01M294.8 269.9h.01M299.2 264.7h.01M300.3 271.6h.01M302.7 264.3h.01M293.9 266.6h.01M292.1 269.4h.01M294.1 271.8h.01M299.4 263.2h.01M295.2 272.3h.01M294.8 270.4h.01M296.8 274.8h.01M295.0 272.1h.01M296.1 273.8h.01M299.5 263.5h.01M294.3 270.8h.01M300.1 274.0h.01M293.3 266.7h.01M292.3 265.8h.01M295.5 275.0h.01M301.6 263.8h.01M299.1 272.4h.01M293.6 271.7h.01M302.9 270.8h.01M295.5 268.0h.01M298.9 264.0h.01M292.3 267.8h.01M293.2 268.7h.01M296.5 265.1h.01M293.6 266.0h.01M294.5 274.7h.01M293.7 268.5h.01M298.9 279.8h.01M293.5 272.9h.01M293.1 271.8h.01M294.2 275.9h.01M294.5 276.9h.01M295.0 278.6h.01M293.2 274.2h.01M294.3 280.3h.01M301.3 276.6h.01M298.6 279.7h.01M300.4 274.1h.01M299.6 276.8h.01M300.4 273.8h.01M294.4 281.5h.01M293.6 275.0h.01M297.2 281.6h.01M295.5 272.3h.01M300.4 277.0h.01M295.2 270.7h.01M299.3 271.0h.01M294.2 281.0h.01M294.3 281.0h.01M299.5 273.2h.01M296.8 281.0h.01M293.5 275.5h.01M295.8 271.6h.01M292.6 273.7h.01M292.9 278.3h.01M299.0 281.5h.01M299.6 281.5h.01M299.4 280.7h.01M300.5 271.1h.01M294.9 271.9h.01M300.4 277.7h.01M298.6 271.7h.01M292.5 280.9h.01M297.5 281.5h.01M301.2 273.9h.01M294.6 273.1h.01M292.4 279.5h.01M300.6 279.6h.01M300.4 276.0h.01M293.2 277.2h.01M299.9 278.5h.01M301.4 274.8h.01M300.4 274.2h.01M299.5 272.1h.01M301.9 275.9h.01M292.5 275.3h.01M293.2 278.8h.01M297.6 270.6h.01M301.2 272.7h.01M292.8 275.8h.01M297.3 280.9h.01M292.7 280.5h.01M293.5 283.5h.01M293.4 272.8h.01M292.5 279.5h.01M292.6 278.7h.01M300.1 271.8h.01M293.4 280.0h.01M294.4 282.0h.01M295.5 283.2h.01M293.4 280.5h.01M297.8 281.3h.01M295.1 281.1h.01M300.5 271.6h.01M300.6 271.6h.01M299.8 271.1h.01M297.8 270.0h.01M292.7 279.7h.01M300.9 275.7h.01M293.0 275.1h.01M298.8 281.9h.01M297.2 271.0h.01M293.4 271.2h.01M293.2 279.6h.01M296.3 283.2h.01M301.2 272.6h.01M293.1 273.5h.01M294.9 281.7h.01M296.2 272.1h.01M294.2 273.3h.01M299.9 280.6h.01M297.3 282.1h.01M296.2 271.8h.01M298.6 279.9h.01M293.3 275.3h.01M294.0 281.9h.01M296.0 282.1h.01M303.7 277.0h.01M296.7 279.0h.01M305.4 264.7h.01M305.5 262.4h.01M300.6 275.2h.01M305.6 271.5h.01M295.3 269.5h.01M291.2 279.9h.01M296.6 269.5h.01M300.6 267.6h.01M295.5 271.3h.01M306.5 277.7h.01M297.0 264.5h.01M299.3 272.8h.01M299.6 275.4h.01M296.1 278.9h.01M302.2 272.4h.01M295.7 271.2h.01M301.4 265.4h.01M297.0 269.1h.01M290.5 279.3h.01M297.7 273.3h.01M302.4 262.8h.01M297.4 274.8h.01M302.2 265.2h.01M301.6 272.7h.01M304.9 276.6h.01M300.7 283.9h.01M297.8 270.6h.01M296.0 268.4h.01M297.6 262.5h.01M297.4 275.6h.01M303.0 269.0h.01M305.1 266.4h.01M297.1 262.7h.01M293.8 270.2h.01M305.5 272.8h.01M292.1 278.2h.01M300.3 270.7h.01M297.9 271.3h.01M295.0 264.4h.01M297.3 280.2h.01M305.1 268.5h.01M294.0 273.4h.01M302.4 273.1h.01M294.8 276.2h.01M296.7 276.3h.01M295.7 265.8h.01M298.1 277.1h.01M292.1 274.7h.01M302.3 269.2h.01M294.5 285.5h.01M302.0 276.9h.01M293.0 283.9h.01M289.3 273.6h.01M301.6 278.8h.01M293.0 271.3h.01M298.8 262.1h.01M301.1 274.8h.01M295.5 276.9h.01M301.8 273.1h.01M300.5 280.2h.01M295.4 274.9h.01M295.1 279.7h.01M295.7 276.4h.01M298.5 273.1h.01M306.5 269.0h.01M305.0 274.6h.01M304.5 269.4h.01M302.5 275.2h.01M294.7 275.7h.01M297.1 273.1h.01M304.4 266.4h.01M289.3 267.0h.01M295.5 270.4h.01M297.9 276.0h.01M306.7 271.1h.01M300.1 268.1h.01M300.7 279.2h.01M304.6 259.7h.01M302.3 279.8h.01M302.0 263.2h.01M296.2 276.8h.01M299.9 267.8h.01M293.3 280.0h.01M291.1 283.5h.01M297.9 274.6h.01M291.1 272.5h.01M301.3 263.6h.01M308.3 261.2h.01M291.6 275.7h.01M300.2 276.0h.01M295.9 272.6h.01M296.6 270.4h.01M284.8 283.4h.01M299.1 273.4h.01M291.7 278.1h.01M297.7 272.2h.01M308.6 250.7h.01M300.3 260.9h.01M294.7 289.9h.01M287.2 276.2h.01M292.0 285.2h.01M288.2 259.3h.01M302.8 267.3h.01M294.7 285.5h.01M289.1 272.6h.01M299.2 276.7h.01M292.8 285.8h.01M319.6 260.0h.01M316.0 243.7h.01M311.5 263.9h.01M299.1 268.9h.01M291.6 262.1h.01M294.0 288.1h.01M308.9 264.9h.01M292.7 267.7h.01M286.1 296.5h.01M304.3 271.6h.01M293.0 264.2h.01M310.6 276.0h.01M288.5 287.0h.01M287.0 284.0h.01M288.4 272.4h.01M302.6 275.6h.01M307.7 260.3h.01M313.2 280.9h.01M297.7 277.9h.01M290.2 274.4h.01M284.9 279.1h.01M299.7 286.2h.01M307.0 277.8h.01M294.3 272.1h.01M294.5 276.6h.01M279.0 288.6h.01M282.5 273.7h.01M298.0 267.6h.01M314.0 265.5h.01M313.1 279.1h.01M293.0 279.1h.01M310.5 264.5h.01M298.7 266.8h.01M298.4 269.1h.01M298.6 283.1h.01M311.4 269.0h.01M299.8 281.1h.01M295.0 263.1h.01M308.6 258.9h.01M306.9 259.3h.01M315.6 255.0h.01M306.1 285.3h.01M288.4 292.2h.01M289.8 257.8h.01M304.8 277.5h.01M295.8 247.4h.01M297.3 270.0h.01M294.1 271.5h.01M280.4 274.1h.01M315.3 282.1h.01M294.3 267.0h.01M293.0 258.0h.01M295.5 255.0h.01M291.0 261.0h.01M297.0 252.0h.01M289.0 263.5h.01M294.0 250.0h.01M286.0 266.0h.01M292.0 286.0h.01M290.0 289.0h.01M288.5 284.0h.01M294.5 290.5h.01M302.0 256.0h.01M305.0 259.0h.01" class="c"/>
<rect x="239.9" y="206.9" width="127.1" height="123.7" class="f"/>
<circle cx="290.8" cy="212.2" r="0.75" class="d"/>
<text x="267.4" y="217.11" class="p" font-size="5.9">NEG00035</text>
<circle cx="292.1" cy="231.8" r="0.75" class="d"/>
<text x="284.8" y="229.81" class="p" font-size="5.9">NEG01251</text>
<circle cx="292.7" cy="238.4" r="0.75" class="d"/>
<text x="285.8" y="245.11" class="p" font-size="5.9">NEG01475</text>
<circle cx="361.8" cy="250.0" r="0.75" class="d"/>
<text x="334.9" y="249.11" class="p" font-size="5.9">NEG01334</text>
<circle cx="321.1" cy="258.1" r="0.75" class="d"/>
<text x="303.6" y="256.21" class="p" font-size="5.9">NEG00101</text>
<circle cx="244.4" cy="278.2" r="0.75" class="d"/>
<text x="247.2" y="278.71" class="p" font-size="5.9">NEG04290</text>
<circle cx="321.1" cy="278.7" r="0.75" class="d"/>
<text x="305.2" y="276.81" class="p" font-size="5.9">NEG00028</text>
<circle cx="267.1" cy="294.2" r="0.75" class="d"/>
<text x="270.0" y="292.81" class="p" font-size="5.9">NEG02984</text>
<circle cx="275.9" cy="300.9" r="0.75" class="d"/>
<text x="278.8" y="303.51" class="p" font-size="5.9">NEG00013</text>
<circle cx="260.4" cy="325.5" r="0.75" class="d"/>
<text x="247.2" y="322.31" class="p" font-size="5.9">NEG00029</text>
<circle cx="289.8" cy="324.2" r="0.75" class="d"/>
<text x="282.0" y="320.41" class="p" font-size="5.9">NEG04825</text>
<text x="244.9" y="342.09" font-size="8.9" text-anchor="middle">−0.4</text>
<text x="269.0" y="342.09" font-size="8.9" text-anchor="middle">−0.2</text>
<text x="299.3" y="342.09" font-size="8.9" text-anchor="middle">0.0</text>
<text x="327.3" y="342.09" font-size="8.9" text-anchor="middle">0.2</text>
<text x="356.4" y="342.09" font-size="8.9" text-anchor="middle">0.4</text>
<text transform="translate(233.19,219.4) rotate(-90)" font-size="8.9" text-anchor="middle">0.3</text>
<text transform="translate(233.19,236.2) rotate(-90)" font-size="8.9" text-anchor="middle">0.2</text>
<text transform="translate(233.19,253.4) rotate(-90)" font-size="8.9" text-anchor="middle">0.1</text>
<text transform="translate(233.19,270.9) rotate(-90)" font-size="8.9" text-anchor="middle">0.0</text>
<text transform="translate(233.19,287.8) rotate(-90)" font-size="8.9" text-anchor="middle">−0.1</text>
<text transform="translate(233.19,305.0) rotate(-90)" font-size="8.9" text-anchor="middle">−0.2</text>
<text transform="translate(233.19,322.2) rotate(-90)" font-size="8.9" text-anchor="middle">−0.3</text>
<text x="304.7" y="358.57" font-size="8.85" text-anchor="middle">p1 (65%)</text>
<text transform="translate(216.99,275.9) rotate(-90)" font-size="8.9" text-anchor="middle">pOrtho1 (65%)</text>
<text x="301.1" y="197.0" font-size="9.2" text-anchor="middle">Loadings</text>
<text x="195.0" y="180.6" class="L">D</text>
<line x1="52.9" y1="394.3" x2="52.9" y2="514.8" class="g"/>
<line x1="52.9" y1="514.8" x2="52.9" y2="517.0999999999999" class="t"/>
<line x1="72.6" y1="394.3" x2="72.6" y2="514.8" class="g"/>
<line x1="72.6" y1="514.8" x2="72.6" y2="517.0999999999999" class="t"/>
<line x1="91.6" y1="394.3" x2="91.6" y2="514.8" class="g"/>
<line x1="91.6" y1="514.8" x2="91.6" y2="517.0999999999999" class="t"/>
<line x1="111.4" y1="394.3" x2="111.4" y2="514.8" class="g"/>
<line x1="111.4" y1="514.8" x2="111.4" y2="517.0999999999999" class="t"/>
<line x1="130.7" y1="394.3" x2="130.7" y2="514.8" class="g"/>
<line x1="130.7" y1="514.8" x2="130.7" y2="517.0999999999999" class="t"/>
<line x1="150.0" y1="394.3" x2="150.0" y2="514.8" class="g"/>
<line x1="150.0" y1="514.8" x2="150.0" y2="517.0999999999999" class="t"/>
<line x1="41.6" y1="397.3" x2="167.3" y2="397.3" class="g"/>
<line x1="39.300000000000004" y1="397.3" x2="41.6" y2="397.3" class="t"/>
<line x1="41.6" y1="417.9" x2="167.3" y2="417.9" class="g"/>
<line x1="39.300000000000004" y1="417.9" x2="41.6" y2="417.9" class="t"/>
<line x1="41.6" y1="438.6" x2="167.3" y2="438.6" class="g"/>
<line x1="39.300000000000004" y1="438.6" x2="41.6" y2="438.6" class="t"/>
<line x1="41.6" y1="459.1" x2="167.3" y2="459.1" class="g"/>
<line x1="39.300000000000004" y1="459.1" x2="41.6" y2="459.1" class="t"/>
<line x1="41.6" y1="479.9" x2="167.3" y2="479.9" class="g"/>
<line x1="39.300000000000004" y1="479.9" x2="41.6" y2="479.9" class="t"/>
<line x1="41.6" y1="501.0" x2="167.3" y2="501.0" class="g"/>
<line x1="39.300000000000004" y1="501.0" x2="41.6" y2="501.0" class="t"/>
<line x1="91.6" y1="394.3" x2="91.6" y2="514.8" class="z"/>
<line x1="41.6" y1="459.1" x2="167.3" y2="459.1" class="z"/>
<ellipse cx="93.3" cy="456.5" rx="5.8" ry="6.6" transform="rotate(0 93.3 456.5)" class="cc"/>
<ellipse cx="92.4" cy="462.5" rx="5.3" ry="5.8" transform="rotate(0 92.4 462.5)" class="cc"/>
<path d="M94.7 460.7h.01M87.7 452.9h.01M98.1 461.2h.01M95.1 450.2h.01M95.3 461.7h.01M91.2 450.7h.01M88.1 462.0h.01M86.0 454.5h.01M90.8 449.4h.01M96.7 456.8h.01M89.7 462.7h.01M98.1 451.0h.01M95.3 449.5h.01M95.8 450.3h.01M91.2 451.5h.01M96.9 462.7h.01M95.6 452.6h.01M87.8 451.3h.01M98.1 459.3h.01M98.4 452.0h.01M87.9 452.6h.01M89.5 461.7h.01M88.5 457.6h.01M90.1 461.3h.01M98.3 456.7h.01M98.6 457.3h.01M87.4 458.3h.01M96.8 461.7h.01M90.6 450.8h.01M86.7 456.5h.01M92.9 461.8h.01M98.4 454.9h.01M100.4 456.1h.01M94.1 449.6h.01M97.5 451.6h.01M90.4 452.8h.01M89.8 461.2h.01M98.6 450.3h.01M98.3 454.2h.01M93.7 450.8h.01M93.0 451.6h.01M89.9 461.8h.01M88.1 454.5h.01M90.2 462.3h.01M90.2 463.6h.01M89.5 461.3h.01M93.5 463.2h.01M97.8 462.3h.01M99.9 456.8h.01M88.6 458.4h.01M88.2 453.8h.01M99.2 459.4h.01M91.6 462.1h.01M86.3 453.8h.01M97.5 454.5h.01M86.6 452.1h.01M98.9 460.0h.01M100.3 455.9h.01M89.6 461.8h.01M96.5 452.6h.01M96.6 458.2h.01M92.3 463.3h.01M93.0 463.8h.01M92.6 463.2h.01M91.6 449.9h.01M95.4 463.9h.01M87.9 451.8h.01M94.8 461.5h.01M92.6 448.4h.01M98.1 459.5h.01M95.7 449.6h.01M96.7 460.9h.01M94.7 460.4h.01M89.9 451.8h.01M98.6 453.3h.01M93.3 448.9h.01M90.6 452.4h.01M89.8 463.0h.01M98.5 458.7h.01M89.1 451.7h.01M91.1 460.8h.01M93.0 463.2h.01M85.3 458.6h.01M87.8 453.8h.01M100.4 455.9h.01M92.3 449.4h.01M90.3 462.8h.01M97.1 462.0h.01M94.1 448.1h.01M87.3 460.1h.01M88.3 461.4h.01M89.8 458.2h.01M88.8 459.5h.01M92.1 469.8h.01M91.1 456.7h.01M91.1 466.2h.01M93.3 455.6h.01M91.5 468.0h.01M86.7 461.6h.01M97.5 462.8h.01M88.1 463.2h.01M89.8 465.8h.01M97.9 462.1h.01M98.2 466.5h.01M97.8 463.6h.01M86.8 462.4h.01M86.5 460.2h.01M87.5 468.5h.01M95.9 467.8h.01M98.3 459.0h.01M96.0 469.0h.01M92.7 468.6h.01M96.3 462.0h.01M89.4 467.3h.01M93.8 457.8h.01M96.9 459.1h.01M96.5 466.1h.01M89.4 458.2h.01M87.9 466.0h.01M87.8 460.3h.01M86.2 466.8h.01M89.5 459.2h.01M93.3 468.2h.01M86.9 465.2h.01M93.1 468.8h.01M88.1 456.7h.01M90.6 468.7h.01M87.6 460.1h.01M96.0 468.5h.01M92.0 466.7h.01M92.5 456.3h.01M90.1 466.9h.01M86.7 463.1h.01M90.4 457.6h.01M89.0 459.9h.01M96.6 458.3h.01M93.9 468.8h.01M93.3 457.4h.01M96.4 457.5h.01M99.4 462.2h.01M90.7 468.5h.01M97.7 461.6h.01M98.2 462.9h.01M92.0 457.0h.01M97.3 466.3h.01M97.9 466.4h.01M88.9 468.6h.01M95.8 459.1h.01M98.3 461.7h.01M93.8 456.8h.01M90.0 456.0h.01M93.0 468.6h.01M87.5 465.0h.01M97.8 462.2h.01M90.1 468.2h.01M87.4 462.9h.01M95.5 466.4h.01M90.2 456.9h.01M95.5 467.1h.01M95.6 465.5h.01M90.5 465.3h.01M89.3 467.2h.01M94.0 470.2h.01M91.8 457.2h.01M91.6 468.6h.01M97.8 465.2h.01M96.6 463.8h.01M87.5 460.5h.01M88.0 468.1h.01M89.3 457.7h.01M88.6 461.3h.01M97.2 461.9h.01M96.0 458.5h.01M90.6 466.8h.01M87.0 465.8h.01M88.5 466.2h.01M86.1 466.9h.01M100.4 462.8h.01M87.8 458.4h.01M88.6 459.0h.01M89.7 463.3h.01M93.8 461.8h.01M98.7 447.8h.01M94.5 457.4h.01M91.1 454.1h.01M88.3 453.7h.01M86.5 476.8h.01M102.8 456.3h.01M97.2 451.6h.01M76.6 452.0h.01M93.7 467.9h.01M92.7 452.7h.01M91.5 453.0h.01M84.7 459.8h.01M90.6 454.5h.01M87.7 454.5h.01M94.3 467.5h.01M91.7 473.6h.01M83.4 463.4h.01M86.1 459.9h.01M93.5 462.4h.01M99.5 453.6h.01M85.6 459.8h.01M94.6 454.1h.01M98.1 468.3h.01M84.6 463.6h.01M98.8 445.1h.01M94.1 457.2h.01M84.6 469.7h.01M94.2 455.6h.01M95.5 462.4h.01M97.4 461.4h.01M95.3 450.8h.01M90.4 460.5h.01M76.7 477.1h.01M90.7 452.9h.01M82.3 463.6h.01M93.1 455.2h.01M90.5 454.0h.01M88.5 459.6h.01M89.1 464.4h.01M92.1 460.1h.01M95.3 466.4h.01M96.4 459.5h.01M91.9 454.1h.01M90.9 463.9h.01M94.2 456.2h.01M85.1 451.4h.01M94.8 465.0h.01M95.1 449.6h.01M91.7 460.8h.01M87.5 462.7h.01M91.7 454.0h.01M85.6 466.2h.01M95.0 452.8h.01M87.0 466.3h.01M96.4 456.1h.01M102.2 454.5h.01M86.7 467.7h.01M91.8 461.5h.01M93.1 452.6h.01M86.0 459.7h.01M101.1 450.3h.01M100.8 458.2h.01M86.4 462.5h.01M96.2 452.3h.01M80.5 464.8h.01M86.4 463.6h.01M81.7 461.2h.01M88.2 450.9h.01M91.5 460.5h.01M89.6 452.4h.01M94.1 447.5h.01M96.0 461.2h.01M102.7 461.9h.01M95.0 460.1h.01M93.1 450.5h.01M101.4 459.9h.01M91.2 452.2h.01M101.6 459.9h.01M86.0 465.2h.01M104.0 455.7h.01M95.2 455.7h.01M89.2 466.8h.01M110.8 454.7h.01M92.2 464.2h.01M91.1 464.1h.01M97.7 451.2h.01M86.7 460.3h.01M97.8 459.4h.01M100.1 448.2h.01M95.8 454.2h.01M93.5 460.9h.01M87.2 459.1h.01M86.1 462.6h.01M87.9 457.3h.01M94.2 454.5h.01M99.6 453.1h.01M97.8 459.4h.01M86.9 459.3h.01M88.0 458.1h.01M91.3 471.0h.01M88.2 479.5h.01M97.9 441.6h.01M66.9 474.6h.01M70.5 474.1h.01M104.5 460.5h.01M90.5 456.6h.01M95.8 454.5h.01M86.9 456.2h.01M106.1 447.7h.01M97.2 443.7h.01M84.9 444.4h.01M90.7 468.0h.01M96.3 452.0h.01M99.8 452.8h.01M97.1 461.2h.01M99.0 427.0h.01M78.3 472.6h.01M91.7 486.8h.01M90.3 453.0h.01M109.7 461.1h.01M114.2 459.2h.01M90.6 468.5h.01M84.1 456.0h.01M86.7 458.0h.01M101.6 450.7h.01M96.5 451.9h.01M102.8 422.5h.01M90.6 461.7h.01M80.8 474.8h.01M95.3 474.0h.01M103.7 463.8h.01M91.2 446.2h.01M90.4 454.1h.01M95.7 452.5h.01M127.2 429.8h.01M106.1 449.6h.01M90.2 471.1h.01M92.9 444.2h.01M97.5 455.3h.01M69.8 467.9h.01M81.1 453.2h.01M98.3 461.1h.01M89.6 486.4h.01M97.6 450.2h.01M95.5 456.8h.01M68.2 446.7h.01M77.3 488.6h.01M90.8 456.2h.01M86.6 472.7h.01M93.2 479.7h.01M101.7 476.6h.01M91.6 463.9h.01M88.1 458.3h.01M73.5 457.4h.01M82.3 454.0h.01M106.5 458.4h.01M106.6 465.6h.01M103.2 468.3h.01M86.1 470.7h.01M89.3 453.6h.01M106.3 481.6h.01M82.0 483.2h.01M102.2 446.1h.01M96.0 462.7h.01M97.1 453.5h.01M78.5 463.4h.01M102.5 465.8h.01M100.3 470.3h.01M99.0 446.0h.01M101.5 443.0h.01M104.0 441.0h.01M100.0 449.0h.01M103.0 447.5h.01M106.0 444.0h.01M98.5 440.5h.01M91.0 472.0h.01M93.0 475.0h.01M90.0 478.0h.01M92.5 481.0h.01M89.0 484.0h.01M94.0 470.5h.01M96.0 473.0h.01" class="c"/>
<rect x="41.6" y="394.3" width="125.7" height="120.5" class="f"/>
<circle cx="73.3" cy="398.4" r="0.75" class="d"/>
<text x="62.3" y="405.59" class="p" font-size="5.85">POS00024</text>
<circle cx="100.3" cy="398.6" r="0.75" class="d"/>
<text x="96.2" y="405.39" class="p" font-size="5.85">POS05426</text>
<circle cx="155.2" cy="408.8" r="0.75" class="d"/>
<text x="137.7" y="406.59" class="p" font-size="5.85">POS02452</text>
<circle cx="130.6" cy="440.9" r="0.75" class="d"/>
<text x="114.8" y="438.69" class="p" font-size="5.85">POS03188</text>
<circle cx="163.8" cy="447.3" r="0.75" class="d"/>
<text x="133.4" y="452.59" class="p" font-size="5.85">POS05044</text>
<circle cx="61.5" cy="453.9" r="0.75" class="d"/>
<text x="63.4" y="452.39" class="p" font-size="5.85">POS04282</text>
<circle cx="57.7" cy="459.7" r="0.75" class="d"/>
<text x="58.5" y="461.79" class="p" font-size="5.85">POS04680</text>
<circle cx="46.6" cy="466.1" r="0.75" class="d"/>
<text x="48.9" y="469.89" class="p" font-size="5.85">POS00011</text>
<circle cx="93.2" cy="471.0" r="0.75" class="d"/>
<text x="85.7" y="475.89" class="p" font-size="5.85">POS01633</text>
<circle cx="85.5" cy="498.2" r="0.75" class="d"/>
<text x="78.8" y="495.99" class="p" font-size="5.85">POS03656</text>
<circle cx="85.5" cy="510.2" r="0.75" class="d"/>
<text x="78.4" y="507.99" class="p" font-size="5.85">POS05070</text>
<text x="50.7" y="527.64" font-size="8.5" text-anchor="middle">−0.2</text>
<text x="71.5" y="527.64" font-size="8.5" text-anchor="middle">−0.1</text>
<text x="90.4" y="527.64" font-size="8.5" text-anchor="middle">0.0</text>
<text x="110.0" y="527.64" font-size="8.5" text-anchor="middle">0.1</text>
<text x="130.7" y="527.64" font-size="8.5" text-anchor="middle">0.2</text>
<text x="150.4" y="527.64" font-size="8.5" text-anchor="middle">0.3</text>
<text transform="translate(35.24,397.3) rotate(-90)" font-size="8.5" text-anchor="middle">0.3</text>
<text transform="translate(35.24,417.9) rotate(-90)" font-size="8.5" text-anchor="middle">0.2</text>
<text transform="translate(35.24,438.6) rotate(-90)" font-size="8.5" text-anchor="middle">0.1</text>
<text transform="translate(35.24,459.1) rotate(-90)" font-size="8.5" text-anchor="middle">0.0</text>
<text transform="translate(35.24,479.9) rotate(-90)" font-size="8.5" text-anchor="middle">−0.1</text>
<text transform="translate(35.24,501.0) rotate(-90)" font-size="8.5" text-anchor="middle">−0.2</text>
<text x="98.6" y="543.60" font-size="8.95" text-anchor="middle">p1 (73%)</text>
<text transform="translate(11.24,453.2) rotate(-90)" font-size="8.5" text-anchor="middle">pOrtho1 (73%)</text>
<text x="105.7" y="386.7" font-size="9.0" text-anchor="middle">Loadings</text>
<text x="9.6" y="366.4" class="L">E</text>
<line x1="243.0" y1="395.1" x2="243.0" y2="513.3" class="g"/>
<line x1="243.0" y1="513.3" x2="243.0" y2="515.5999999999999" class="t"/>
<line x1="262.1" y1="395.1" x2="262.1" y2="513.3" class="g"/>
<line x1="262.1" y1="513.3" x2="262.1" y2="515.5999999999999" class="t"/>
<line x1="281.7" y1="395.1" x2="281.7" y2="513.3" class="g"/>
<line x1="281.7" y1="513.3" x2="281.7" y2="515.5999999999999" class="t"/>
<line x1="300.1" y1="395.1" x2="300.1" y2="513.3" class="g"/>
<line x1="300.1" y1="513.3" x2="300.1" y2="515.5999999999999" class="t"/>
<line x1="319.6" y1="395.1" x2="319.6" y2="513.3" class="g"/>
<line x1="319.6" y1="513.3" x2="319.6" y2="515.5999999999999" class="t"/>
<line x1="338.7" y1="395.1" x2="338.7" y2="513.3" class="g"/>
<line x1="338.7" y1="513.3" x2="338.7" y2="515.5999999999999" class="t"/>
<line x1="357.9" y1="395.1" x2="357.9" y2="513.3" class="g"/>
<line x1="357.9" y1="513.3" x2="357.9" y2="515.5999999999999" class="t"/>
<line x1="241.4" y1="406.5" x2="368.5" y2="406.5" class="g"/>
<line x1="239.1" y1="406.5" x2="241.4" y2="406.5" class="t"/>
<line x1="241.4" y1="423.0" x2="368.5" y2="423.0" class="g"/>
<line x1="239.1" y1="423.0" x2="241.4" y2="423.0" class="t"/>
<line x1="241.4" y1="439.2" x2="368.5" y2="439.2" class="g"/>
<line x1="239.1" y1="439.2" x2="241.4" y2="439.2" class="t"/>
<line x1="241.4" y1="455.8" x2="368.5" y2="455.8" class="g"/>
<line x1="239.1" y1="455.8" x2="241.4" y2="455.8" class="t"/>
<line x1="241.4" y1="472.2" x2="368.5" y2="472.2" class="g"/>
<line x1="239.1" y1="472.2" x2="241.4" y2="472.2" class="t"/>
<line x1="241.4" y1="489.3" x2="368.5" y2="489.3" class="g"/>
<line x1="239.1" y1="489.3" x2="241.4" y2="489.3" class="t"/>
<line x1="241.4" y1="505.8" x2="368.5" y2="505.8" class="g"/>
<line x1="239.1" y1="505.8" x2="241.4" y2="505.8" class="t"/>
<line x1="300.1" y1="395.1" x2="300.1" y2="513.3" class="z"/>
<line x1="241.4" y1="439.2" x2="368.5" y2="439.2" class="z"/>
<ellipse cx="300.2" cy="443.4" rx="6.0" ry="4.8" transform="rotate(0 300.2 443.4)" class="cc"/>
<path d="M294.7 443.2h.01M294.8 446.4h.01M302.1 448.4h.01M304.7 439.6h.01M294.1 443.3h.01M305.7 441.8h.01M293.9 443.8h.01M298.5 440.0h.01M301.0 448.2h.01M299.7 447.7h.01M305.1 444.2h.01M298.4 448.7h.01M305.8 439.7h.01M300.9 448.7h.01M294.9 440.5h.01M304.2 444.7h.01M300.3 446.2h.01M304.3 444.3h.01M296.3 440.5h.01M297.9 446.2h.01M301.6 440.7h.01M306.8 443.8h.01M304.9 441.9h.01M305.8 446.2h.01M300.4 448.1h.01M302.7 446.3h.01M296.6 447.7h.01M301.4 448.5h.01M295.5 450.2h.01M301.6 439.2h.01M296.1 443.8h.01M305.3 440.8h.01M300.3 439.0h.01M296.3 440.3h.01M303.7 439.4h.01M299.1 439.1h.01M295.8 448.3h.01M296.3 437.5h.01M300.0 437.5h.01M307.1 441.1h.01M305.1 440.7h.01M301.5 440.4h.01M296.7 441.6h.01M301.7 438.1h.01M303.8 440.4h.01M291.7 442.0h.01M307.9 441.2h.01M302.0 437.3h.01M300.1 448.5h.01M301.9 447.4h.01M294.3 444.7h.01M306.3 440.2h.01M297.9 439.2h.01M301.2 439.5h.01M301.5 439.6h.01M301.9 440.8h.01M294.1 446.7h.01M303.7 438.7h.01M297.9 446.3h.01M301.5 439.7h.01M306.0 443.5h.01M304.8 446.5h.01M302.0 439.9h.01M293.7 444.8h.01M297.0 447.7h.01M304.1 438.8h.01M295.9 440.2h.01M299.4 448.5h.01M298.8 440.0h.01M302.5 438.5h.01M304.5 446.6h.01M302.7 439.3h.01M302.5 447.5h.01M294.6 448.7h.01M301.4 449.0h.01M304.2 440.9h.01M297.6 445.0h.01M294.2 443.2h.01M306.9 443.0h.01M304.3 448.8h.01M293.6 442.5h.01M305.8 441.8h.01M294.2 444.8h.01M297.1 446.8h.01M303.4 445.3h.01M294.9 443.0h.01M294.4 447.9h.01M297.7 439.9h.01M304.8 445.3h.01M305.2 442.3h.01M293.8 452.6h.01M295.8 440.1h.01M290.2 445.1h.01M306.8 437.3h.01M288.1 460.3h.01M312.2 444.1h.01M296.7 436.9h.01M289.5 450.1h.01M308.7 434.3h.01M300.2 441.7h.01M298.5 447.0h.01M313.8 435.4h.01M305.7 448.5h.01M298.4 443.0h.01M291.5 452.7h.01M296.7 440.4h.01M300.6 437.9h.01M293.4 443.6h.01M309.9 439.2h.01M303.6 433.3h.01M287.5 458.5h.01M297.6 434.6h.01M299.5 447.4h.01M289.0 441.3h.01M301.9 437.2h.01M305.4 447.8h.01M303.1 439.9h.01M299.9 439.6h.01M299.4 445.6h.01M298.2 450.0h.01M317.1 434.9h.01M302.4 447.8h.01M304.4 440.7h.01M297.1 450.6h.01M304.3 445.3h.01M295.0 448.9h.01M305.4 440.7h.01M304.4 455.6h.01M288.0 450.8h.01M292.6 437.2h.01M298.7 447.3h.01M300.5 436.0h.01M290.8 442.8h.01M300.3 438.2h.01M290.4 457.3h.01M294.7 444.1h.01M296.6 440.8h.01M300.5 441.5h.01M304.2 434.8h.01M290.5 458.5h.01M299.7 448.3h.01M307.9 444.5h.01M300.4 433.6h.01M289.7 452.6h.01M304.6 445.6h.01M289.4 433.4h.01M293.3 438.1h.01M301.2 436.7h.01M310.5 436.4h.01M296.5 449.9h.01M302.3 437.1h.01M305.6 453.8h.01M292.2 444.3h.01M293.2 433.4h.01M304.3 446.5h.01M306.6 444.2h.01M287.0 447.2h.01M295.8 437.4h.01M293.0 450.4h.01M298.3 456.3h.01M303.3 430.5h.01M306.1 449.5h.01M300.4 435.8h.01M311.8 431.7h.01M299.7 431.6h.01M292.0 435.2h.01M307.3 448.6h.01M297.5 435.7h.01M299.8 445.9h.01M290.2 439.1h.01M299.5 448.0h.01M300.7 446.1h.01M292.0 430.2h.01M302.2 437.0h.01M299.4 441.3h.01M303.4 437.6h.01M309.7 440.7h.01M303.7 446.3h.01M307.0 443.9h.01M288.7 442.9h.01M312.5 442.7h.01M303.9 445.2h.01M296.0 440.4h.01M295.9 452.0h.01M302.6 453.9h.01M303.5 454.3h.01M303.2 435.0h.01M311.7 442.1h.01M308.1 442.4h.01M298.0 445.1h.01M292.8 438.1h.01M294.3 441.9h.01M291.2 445.4h.01M302.2 455.6h.01M312.4 439.4h.01M306.1 440.3h.01M302.8 442.4h.01M296.6 445.0h.01M290.4 449.1h.01M298.3 437.1h.01M297.8 447.6h.01M295.7 447.8h.01M304.0 452.1h.01M293.0 444.9h.01M306.8 459.8h.01M303.6 451.6h.01M281.4 441.9h.01M321.5 433.5h.01M328.0 426.1h.01M296.6 424.9h.01M308.4 444.2h.01M326.2 437.6h.01M297.0 427.1h.01M299.1 455.3h.01M309.7 455.6h.01M311.3 439.5h.01M308.0 443.2h.01M283.0 469.6h.01M305.0 429.0h.01M305.2 445.5h.01M313.0 457.3h.01M261.0 462.0h.01M319.9 425.8h.01M276.2 454.0h.01M304.5 446.4h.01M285.9 441.9h.01M302.7 451.8h.01M328.5 438.5h.01M292.4 416.7h.01M314.1 437.6h.01M298.8 431.6h.01M309.7 418.4h.01M301.6 444.5h.01M304.1 458.3h.01M298.9 444.9h.01M311.3 420.9h.01M296.4 445.4h.01M312.6 429.8h.01M310.6 445.0h.01M280.9 430.9h.01M281.6 450.7h.01M302.9 451.5h.01M310.8 433.4h.01M314.1 449.4h.01M306.3 447.5h.01M283.5 452.9h.01M286.8 432.7h.01M295.7 446.5h.01M299.5 439.5h.01M287.2 449.6h.01M290.6 428.9h.01M301.4 461.0h.01M294.9 431.8h.01M318.2 459.2h.01M296.4 441.9h.01M302.9 479.1h.01M301.9 455.2h.01M306.0 419.1h.01M285.9 432.4h.01M305.8 443.0h.01M323.4 433.1h.01M304.2 443.1h.01M302.0 471.6h.01M303.9 460.5h.01M317.1 430.8h.01M309.1 436.0h.01M301.6 444.9h.01M300.5 437.5h.01M320.4 434.0h.01M309.3 461.5h.01M308.3 453.7h.01M318.3 451.5h.01M322.6 419.0h.01M325.7 436.1h.01M277.5 442.3h.01M282.1 448.6h.01M280.8 436.7h.01M304.1 444.2h.01M289.8 443.6h.01M298.9 444.7h.01M303.5 452.0h.01M302.0 455.0h.01M304.5 457.5h.01M301.5 460.0h.01M303.0 463.0h.01M305.0 466.0h.01M302.5 469.0h.01M304.0 472.0h.01M306.0 455.0h.01M300.5 452.5h.01" class="c"/>
<rect x="241.4" y="395.1" width="127.1" height="118.2" class="f"/>
<circle cx="362.0" cy="401.9" r="0.75" class="d"/>
<text x="337.2" y="400.83" class="p" font-size="5.95">NEG02984</text>
<circle cx="363.5" cy="403.9" r="0.75" class="d"/>
<circle cx="327.9" cy="398.7" r="0.75" class="d"/>
<text x="314.1" y="406.03" class="p" font-size="5.95">NEG04825</text>
<circle cx="366.0" cy="411.0" r="0.75" class="d"/>
<text x="339.1" y="411.43" class="p" font-size="5.95">NEG00029</text>
<circle cx="363.5" cy="434.7" r="0.75" class="d"/>
<text x="336.4" y="433.53" class="p" font-size="5.95">NEG04290</text>
<circle cx="272.7" cy="436.0" r="0.75" class="d"/>
<text x="248.9" y="432.53" class="p" font-size="5.95">NEG00028</text>
<circle cx="281.9" cy="436.8" r="0.75" class="d"/>
<text x="284.2" y="437.83" class="p" font-size="5.95">NEG00106</text>
<circle cx="246.1" cy="455.2" r="0.75" class="d"/>
<text x="248.5" y="456.23" class="p" font-size="5.95">NEG01334</text>
<circle cx="306.7" cy="476.1" r="0.75" class="d"/>
<text x="304.8" y="474.63" class="p" font-size="5.95">NEG01475</text>
<circle cx="308.2" cy="485.3" r="0.75" class="d"/>
<text x="300.5" y="483.13" class="p" font-size="5.95">NEG01251</text>
<circle cx="313.2" cy="508.2" r="0.75" class="d"/>
<text x="305.4" y="506.63" class="p" font-size="5.95">NEG00035</text>
<text x="246.0" y="526.89" font-size="8.9" text-anchor="middle">−0.3</text>
<text x="265.2" y="526.89" font-size="8.9" text-anchor="middle">−0.2</text>
<text x="284.6" y="526.89" font-size="8.9" text-anchor="middle">−0.1</text>
<text x="301.6" y="526.89" font-size="8.9" text-anchor="middle">0.0</text>
<text x="320.6" y="526.89" font-size="8.9" text-anchor="middle">0.1</text>
<text x="338.6" y="526.89" font-size="8.9" text-anchor="middle">0.2</text>
<text x="357.2" y="526.89" font-size="8.9" text-anchor="middle">0.3</text>
<text transform="translate(234.89,406.5) rotate(-90)" font-size="8.9" text-anchor="middle">0.2</text>
<text transform="translate(234.89,423.0) rotate(-90)" font-size="8.9" text-anchor="middle">0.1</text>
<text transform="translate(234.89,439.2) rotate(-90)" font-size="8.9" text-anchor="middle">0.0</text>
<text transform="translate(234.89,455.8) rotate(-90)" font-size="8.9" text-anchor="middle">−0.1</text>
<text transform="translate(234.89,472.2) rotate(-90)" font-size="8.9" text-anchor="middle">−0.2</text>
<text transform="translate(234.89,489.3) rotate(-90)" font-size="8.9" text-anchor="middle">−0.3</text>
<text transform="translate(234.89,505.8) rotate(-90)" font-size="8.9" text-anchor="middle">−0.4</text>
<text x="306.0" y="541.12" font-size="9.0" text-anchor="middle">p1 (69%)</text>
<text transform="translate(219.51,459.8) rotate(-90)" font-size="8.7" text-anchor="middle">pOrtho1 (69%)</text>
<text x="301.5" y="383.6" font-size="9.2" text-anchor="middle">Loadings</text>
<text x="195.0" y="366.4" class="L">F</text>
</svg>
</body></html>
